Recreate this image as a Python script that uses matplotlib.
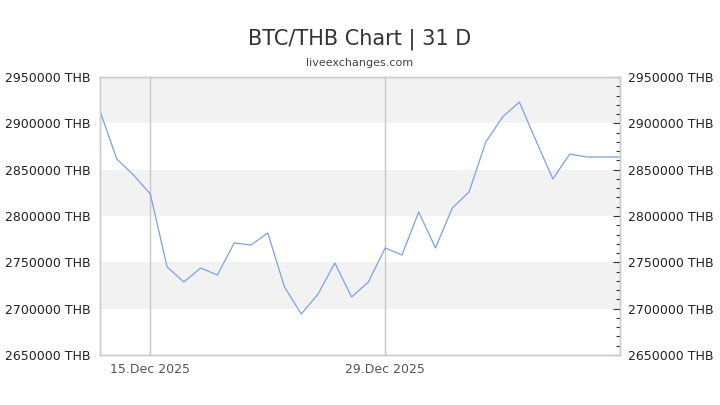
import matplotlib
matplotlib.use("Agg")
import matplotlib.pyplot as plt
import matplotlib.dates as mdates
import matplotlib.ticker as mticker
import numpy as np
import datetime as dt

# BTC/THB closing values, one per day starting 12 Dec 2025
start = dt.date(2025, 12, 12)
prices = [2913300, 2861500, 2844200, 2823700, 2745000, 2728800, 2743900, 2736300,
          2770900, 2768700, 2781700, 2723400, 2694200, 2715800, 2749300, 2712600,
          2728800, 2765500, 2757900, 2804300, 2765500, 2808600, 2825900, 2879900,
          2906800, 2923000, 2880900, 2839900, 2866900, 2863700, 2863700, 2863700]
dates = [start + dt.timedelta(days=i) for i in range(len(prices))]
tick_dates = [dt.date(2025, 12, 15), dt.date(2025, 12, 29)]
ymin, ymax, ystep = 2650000, 2950000, 50000

fig = plt.figure(figsize=(7.2, 4.05), dpi=100)
ax = fig.add_axes([100 / 720, 1 - 355 / 405, 520 / 720, 278 / 405])

# alternating bands
for i, lo in enumerate(range(ymin, ymax, ystep)):
    if i % 2 == 1:
        ax.axhspan(lo, lo + ystep, color="#f2f2f2", lw=0, zorder=0)

for d in tick_dates:
    ax.axvline(d, color="#c8c8c8", lw=1, zorder=1)

ax.plot(dates, prices, color="#7ba1ea", lw=0.9, zorder=3)

ax.set_xlim(dates[0], dates[-1])
ax.set_ylim(ymin, ymax)

ax.set_xticks(tick_dates)
ax.xaxis.set_major_formatter(mdates.DateFormatter("%d.%b %Y"))
ax.tick_params(axis="x", length=0, pad=6, labelsize=9, labelcolor="#555555")

fmt = mticker.FuncFormatter(lambda v, p: "%d THB" % v)
yt = np.arange(ymin, ymax + 1, ystep)

# left labels, no ticks
ax.set_yticks(yt)
ax.yaxis.set_major_formatter(fmt)
ax.tick_params(axis="y", which="both", left=False, right=False, length=0,
               labelsize=9, labelcolor="#222222", pad=6.5)

# right axis with ticks pointing inward
ax2 = ax.twinx()
ax2.set_ylim(ymin, ymax)
ax2.set_yticks(yt)
ax2.yaxis.set_major_formatter(fmt)
ax2.yaxis.set_minor_locator(mticker.MultipleLocator(10000))
ax2.tick_params(axis="y", which="both", direction="in", left=False, right=True,
                labelleft=False, labelright=True, labelsize=9,
                labelcolor="#222222", color="#333333", pad=5.5)
ax2.tick_params(axis="y", which="major", length=5, width=0.8)
ax2.tick_params(axis="y", which="minor", length=3, width=0.8)

for a in (ax, ax2):
    for s in a.spines.values():
        s.set_color("#cccccc")
        s.set_linewidth(1)

fig.text(0.5, 1 - 39 / 405, "BTC/THB Chart | 31 D", ha="center", va="center",
         fontsize=15, color="#333333")
fig.text(0.5, 1 - 63 / 405, "liveexchanges.com", ha="center", va="center",
         fontsize=8, color="#444444")

fig.savefig("out.png", dpi=100)
